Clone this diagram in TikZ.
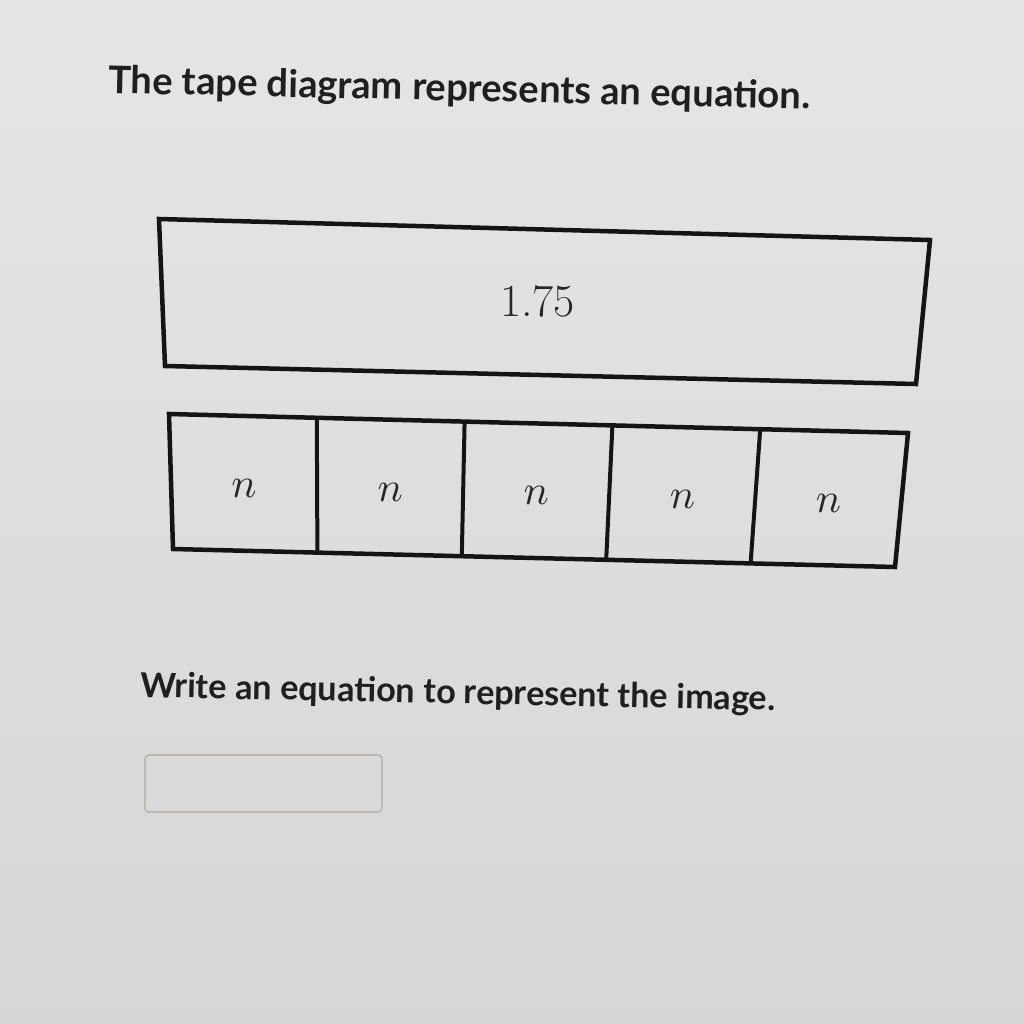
\documentclass[tikz,border=0pt]{standalone}
\usepackage{fontspec}
\newfontfamily\latofont{Lato}
\usetikzlibrary{calc}
\begin{document}
\begin{tikzpicture}[x=1pt,y=-1pt,
  tape/.style={line width=4.5pt, line join=miter, draw=black!92},
  divider/.style={line width=4pt, draw=black!92},
  numlbl/.style={inner sep=0pt, font=\fontsize{46}{52}\selectfont, text=black!85},
  varlbl/.style={inner sep=0pt, text=black!85},
  prompt/.style={inner sep=0pt, anchor=base west, text=black!88},
  inputbox/.style={draw=brown!40!black!35, line width=1.8pt, rounded corners=4pt, inner sep=0pt}]
\useasboundingbox (0,0) rectangle (1024,1024);
\shade[top color=black!10, bottom color=black!16] (0,0) rectangle (1024,1024);

% title
\node[prompt, rotate=-1.3] (title) at (108,93)
  {\resizebox{702pt}{!}{\latofont\bfseries\fontsize{40}{48}\selectfont The tape diagram represents an equation.}};

% top tape
\coordinate (tTL) at (159,219);
\coordinate (tTR) at (930,240);
\coordinate (tBR) at (916,384);
\coordinate (tBL) at (165,366);
\draw[tape] (tTL) -- (tTR) -- (tBR) -- (tBL) -- cycle;
\node[numlbl] (total) at ($(tTL)!0.5!(tBR)$) {1.75};

% bottom tape
\coordinate (bTL) at (169,414);
\coordinate (bTR) at (908,433);
\coordinate (bBR) at (895,567);
\coordinate (bBL) at (173,549);
\draw[tape] (bTL) -- (bTR) -- (bBR) -- (bBL) -- cycle;
\foreach \t in {0.2,0.4,0.6,0.8}{
  \draw[divider] ($(bTL)!\t!(bTR)$) -- ($(bBL)!\t!(bBR)$);
}
\foreach \i/\t in {1/0.1,2/0.3,3/0.5,4/0.7,5/0.9}{
  \node[varlbl, yshift=-5pt] (n\i) at ($($(bTL)!\t!(bTR)$)!0.5!($(bBL)!\t!(bBR)$)$) {\scalebox{4.2}{$n$}};
}

% prompt
\node[prompt, rotate=-1.2] (question) at (140,697)
  {\resizebox{635pt}{!}{\latofont\bfseries\fontsize{40}{48}\selectfont Write an equation to represent the image.}};

% answer box
\node[inputbox, minimum width=237pt, minimum height=57pt] (answer) at (263.5,783.5) {};
\end{tikzpicture}
\end{document}
